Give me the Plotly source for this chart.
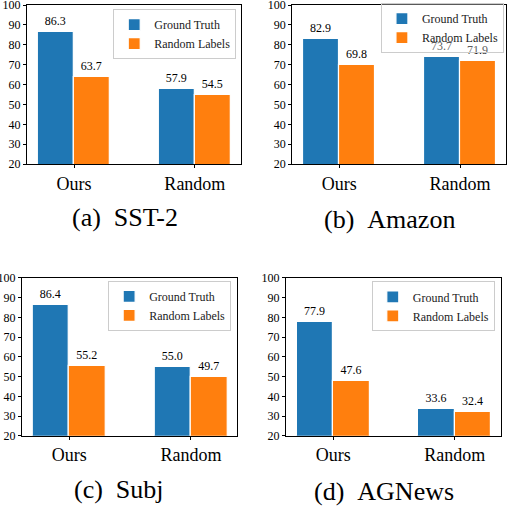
import plotly.graph_objects as go

# data
methods = ['Ours', 'Random']
series_names = ['Ground Truth', 'Random Labels']
captions = ['(a)  SST-2', '(b)  Amazon', '(c)  Subj', '(d)  AGNews']

sst2_ground_truth = [86.3, 57.9]
sst2_random_labels = [63.7, 54.5]
amazon_ground_truth = [82.9, 73.7]
amazon_random_labels = [69.8, 71.9]
subj_ground_truth = [86.4, 55.0]
subj_random_labels = [55.2, 49.7]
agnews_ground_truth = [77.9, 33.6]
agnews_random_labels = [47.6, 32.4]

y_ticks = [20, 30, 40, 50, 60, 70, 80, 90, 100]

BLUE = '#1f77b4'
ORANGE = '#ff7f0e'
FONT = 'Liberation Serif, Times New Roman, DejaVu Serif, serif'

panels = [
    (sst2_ground_truth, sst2_random_labels),
    (amazon_ground_truth, amazon_random_labels),
    (subj_ground_truth, subj_random_labels),
    (agnews_ground_truth, agnews_random_labels),
]

# layout of each panel: x domain, y domain, legend corner, caption position
x_domains = [[0.053, 0.474], [0.575, 0.996], [0.043, 0.467], [0.563, 0.986]]
y_domains = [[0.677, 0.990], [0.677, 0.990], [0.142, 0.453], [0.142, 0.453]]
legend_corners = [(0.465, 0.982), (0.992, 0.994), (0.455, 0.447), (0.974, 0.446)]
caption_pos = [(0.246, 0.571), (0.766, 0.567), (0.234, 0.036), (0.756, 0.033)]

fig = go.Figure()
layout = {}
annotations = []

for i, (gt, rl) in enumerate(panels):
    n = '' if i == 0 else str(i + 1)
    xa, ya, lg = 'x' + n, 'y' + n, 'legend' + n
    for vals, name, color, offset in [(gt, series_names[0], BLUE, -0.3),
                                      (rl, series_names[1], ORANGE, 0.0)]:
        fig.add_bar(x=methods, y=vals, name=name,
                    marker=dict(color=color, line=dict(color='white', width=1.2)),
                    width=0.3, offset=offset,
                    text=vals, texttemplate='%{y:.1f}', textposition='outside',
                    textfont=dict(family=FONT, size=12, color='black'),
                    cliponaxis=False,
                    xaxis=xa, yaxis=ya, legend=lg)

    layout['xaxis' + n] = dict(domain=x_domains[i], anchor=ya, range=[-0.39, 1.38],
                               showline=True, mirror=True, linecolor='black', linewidth=1,
                               ticks='outside', ticklen=3, tickcolor='black',
                               showgrid=False, zeroline=False, automargin=False,
                               tickfont=dict(family=FONT, size=18, color='black'))
    layout['yaxis' + n] = dict(domain=y_domains[i], anchor=xa, range=[20, 100],
                               tickvals=y_ticks, ticklabeloverflow='allow',
                               showline=True, mirror=True, linecolor='black', linewidth=1,
                               ticks='outside', ticklen=3, tickcolor='black',
                               showgrid=False, zeroline=False, automargin=False,
                               tickfont=dict(family=FONT, size=12, color='black'))
    lx, ly = legend_corners[i]
    layout[lg] = dict(x=lx, y=ly, xanchor='right', yanchor='top',
                      xref='paper', yref='paper',
                      bgcolor='rgba(255,255,255,0.35)', bordercolor='#cccccc', borderwidth=1,
                      font=dict(family=FONT, size=12, color='#222222'),
                      tracegroupgap=0, itemwidth=30)
    cx, cy = caption_pos[i]
    annotations.append(dict(x=cx, y=cy, xref='paper', yref='paper',
                            text=captions[i].replace(' ', '&nbsp;'), showarrow=False,
                            xanchor='center', yanchor='middle',
                            font=dict(family=FONT, size=26, color='black')))

fig.update_layout(**layout)
fig.update_layout(
    width=508, height=508,
    margin=dict(l=0, r=0, t=0, b=0),
    plot_bgcolor='white', paper_bgcolor='white',
    bargap=0, annotations=annotations,
    font=dict(family=FONT, color='black'),
)

# drop the default page margin so the figure sits at the window corner
fig.write_html('out.html', config={'displayModeBar': False},
               post_script="document.body.style.margin = '0';")
